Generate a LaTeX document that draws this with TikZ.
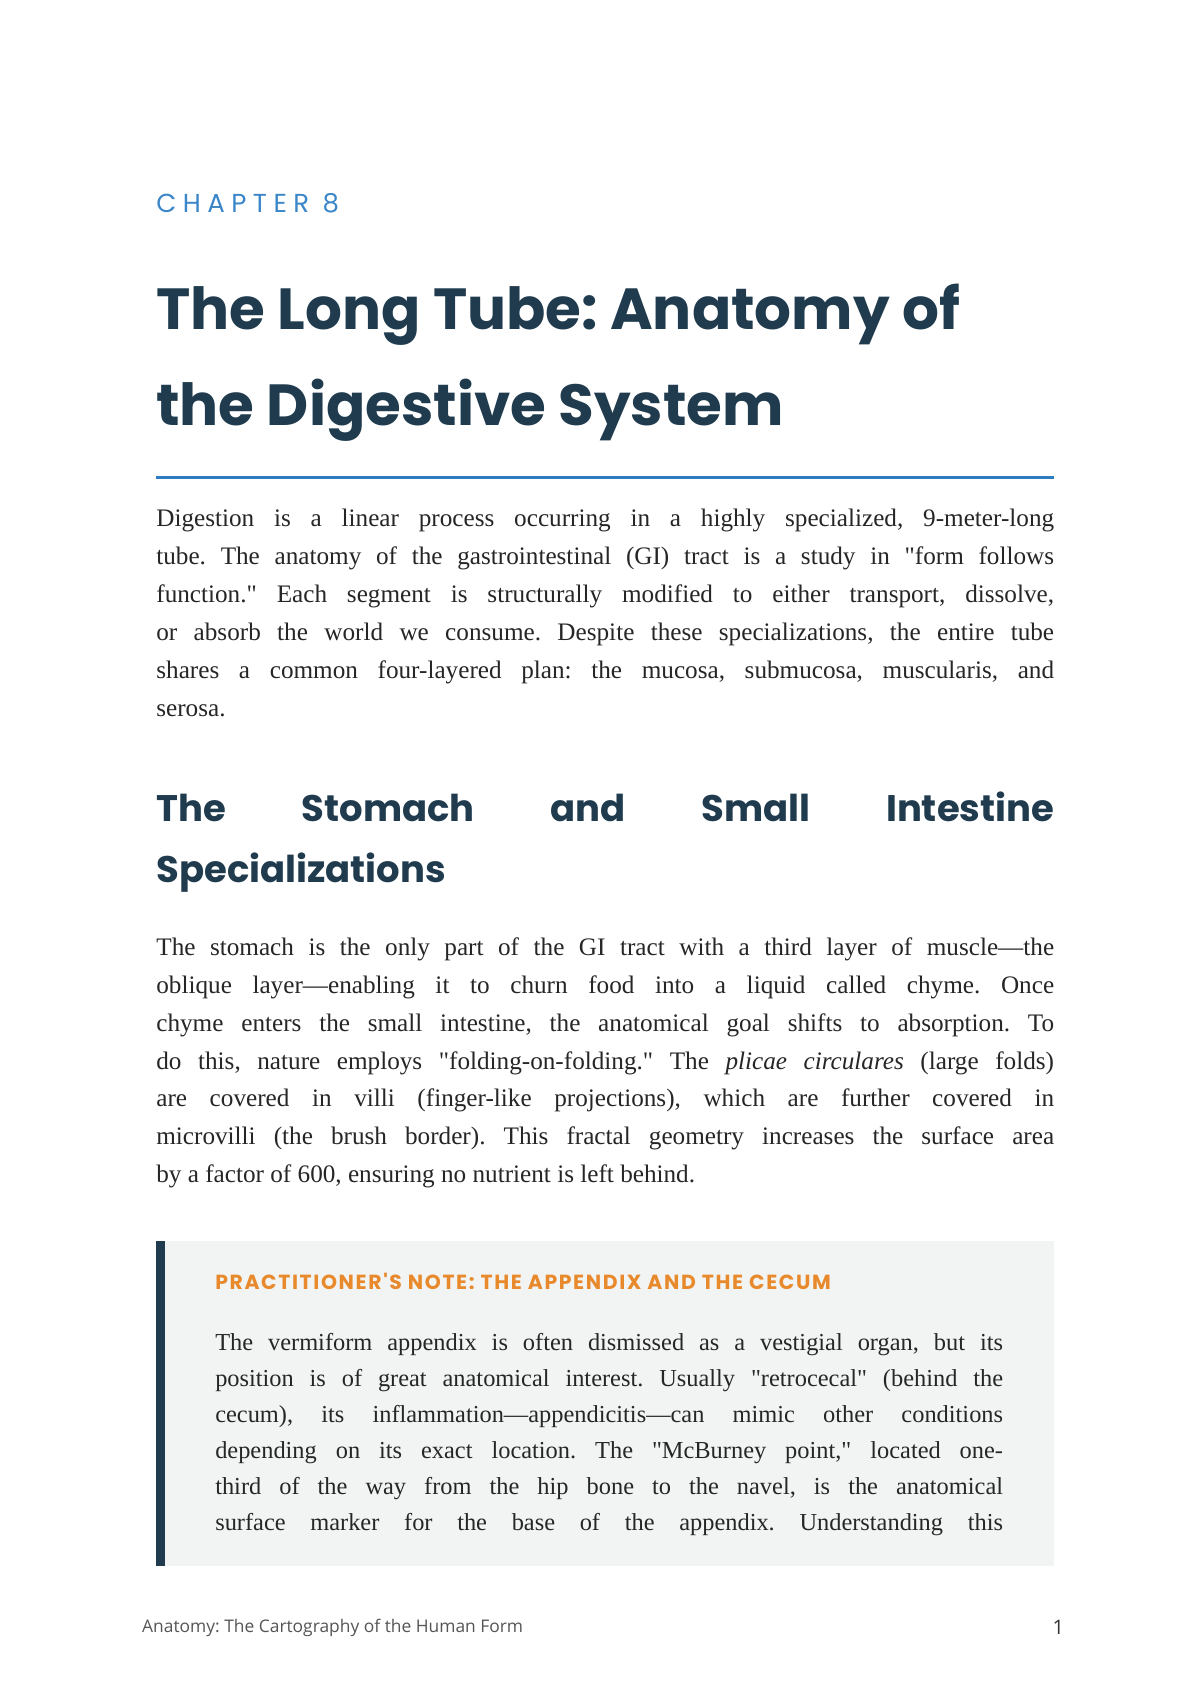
\documentclass[tikz,border=0pt]{standalone}
\usepackage{fontspec}
\setmainfont{Liberation Serif}
\newfontfamily\headfont{Poppins}
\newfontfamily\capsfont[LetterSpace=25]{Poppins}
\newfontfamily\notefont[LetterSpace=8]{Poppins}
\newfontfamily\footfont{Open Sans}
\definecolor{navy}{HTML}{1F3B4D}
\definecolor{rule}{HTML}{2E7CC0}
\definecolor{chap}{HTML}{3A86C8}
\definecolor{orng}{HTML}{E8892B}
\definecolor{boxbg}{HTML}{F2F4F4}
\definecolor{foot}{HTML}{555555}
\newcommand{\q}{\textquotedbl}
\frenchspacing
\tikzset{
 body/.style={anchor=north west,inner sep=0pt,text width=449pt,align=justify,
   font=\fontsize{12.6}{19}\selectfont,text=black!85},
 boxtext/.style={anchor=north west,inner sep=0pt,text width=394pt,align=justify,
   font=\fontsize{12.2}{18}\selectfont,text=black!85},
}
\begin{document}
\begin{tikzpicture}[x=0.5455pt,y=-0.5455pt]
\useasboundingbox[fill=white] (0,0) rectangle (1100,1555);
\node[anchor=base west,inner sep=0pt,text=chap,font=\capsfont\fontsize{13}{16}\selectfont] (chapter) at (143,195) {CHAPTER 8};
\node[anchor=north west,inner sep=0pt,text=navy,align=left,font=\headfont\bfseries\fontsize{29}{48}\selectfont] (title) at (143,260) {The Long Tube: Anatomy of\\the Digestive System};
\draw[rule,line width=1.7pt] (143,438) coordinate (r1) -- (966,438) coordinate (r2);
\node[body] (p1) at (143,466) {Digestion is a linear process occurring in a highly specialized, 9-meter-long\linebreak tube. The anatomy of the gastrointestinal (GI) tract is a study in \q form follows\linebreak function.\q{} Each segment is structurally modified to either transport, dissolve,\linebreak or absorb the world we consume. Despite these specializations, the entire tube\linebreak shares a common four-layered plan: the mucosa, submucosa, muscularis, and\linebreak serosa.};
\node[anchor=north west,inner sep=0pt,text width=449pt,align=justify,text=navy,font=\headfont\bfseries\fontsize{18.5}{30.5}\selectfont] (sec) at (143,726) {The Stomach and Small Intestine\linebreak Specializations};
\node[body] (p2) at (143,859) {The stomach is the only part of the GI tract with a third layer of muscle—the\linebreak oblique layer—enabling it to churn food into a liquid called chyme. Once\linebreak chyme enters the small intestine, the anatomical goal shifts to absorption. To\linebreak do this, nature employs \q folding-on-folding.\q{} The \textit{plicae circulares} (large folds)\linebreak are covered in villi (finger-like projections), which are further covered in\linebreak microvilli (the brush border). This fractal geometry increases the surface area\linebreak by a factor of 600, ensuring no nutrient is left behind.};
\fill[boxbg] (143,1138) rectangle (966,1436);
\fill[navy] (143,1138) rectangle (151,1436);
\node[anchor=base west,inner sep=0pt,text=orng,font=\notefont\bfseries\fontsize{10.2}{12}\selectfont] (notetitle) at (197,1182) {PRACTITIONER'S NOTE: THE APPENDIX AND THE CECUM};
\node[boxtext] (note) at (197,1222) {The vermiform appendix is often dismissed as a vestigial organ, but its\linebreak position is of great anatomical interest. Usually \q retrocecal\q{} (behind the\linebreak cecum), its inflammation—appendicitis—can mimic other conditions\linebreak depending on its exact location. The \q McBurney point,\q{} located one-\linebreak third of the way from the hip bone to the navel, is the anatomical\linebreak surface marker for the base of the appendix. Understanding this\linebreak};
\node[anchor=base west,inner sep=0pt,text=foot,font=\footfont\fontsize{8.7}{10}\selectfont] (footer) at (130,1497) {Anatomy: The Cartography of the Human Form};
\node[anchor=base east,inner sep=0pt,text=black!80,font=\footfont\fontsize{10}{12}\selectfont] (page) at (976,1499) {1};
\end{tikzpicture}
\end{document}
